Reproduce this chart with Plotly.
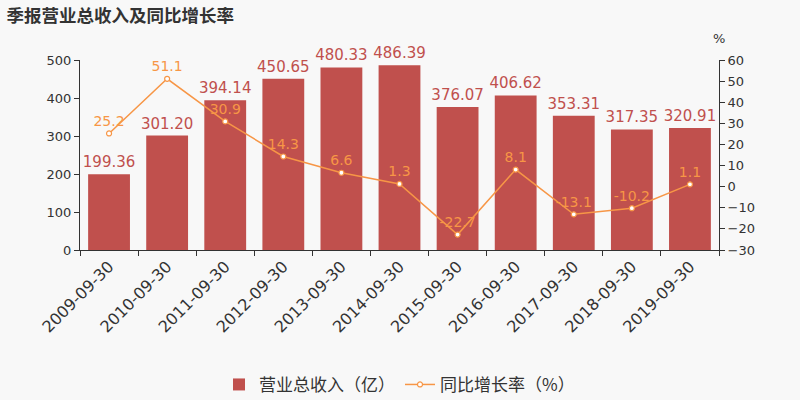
import plotly.graph_objects as go

categories = ["2009-09-30", "2010-09-30", "2011-09-30", "2012-09-30", "2013-09-30",
              "2014-09-30", "2015-09-30", "2016-09-30", "2017-09-30", "2018-09-30", "2019-09-30"]
revenue = [199.36, 301.20, 394.14, 450.65, 480.33, 486.39, 376.07, 406.62, 353.31, 317.35, 320.91]
growth = [25.2, 51.1, 30.9, 14.3, 6.6, 1.3, -22.7, 8.1, -13.1, -10.2, 1.1]

bar_color = "#c0504d"
line_color = "#f79646"
font_fam = "Noto Sans CJK SC, DejaVu Sans, sans-serif"

fig = go.Figure()
fig.add_trace(go.Bar(
    x=categories, y=revenue, name="营业总收入（亿）",
    marker=dict(color=bar_color, line=dict(width=0)),
    text=[f"{v:.2f}" for v in revenue], textposition="outside",
    textfont=dict(color=bar_color, size=15, family="DejaVu Sans"),
    constraintext="none",
    cliponaxis=False, width=0.72,
))
fig.add_trace(go.Scatter(
    x=categories, y=growth, name="同比增长率（%）", yaxis="y2",
    mode="lines+markers+text",
    line=dict(color=line_color, width=1.5),
    marker=dict(symbol="circle", size=5, color="white", line=dict(color=line_color, width=1.2)),
    text=[f"{v}" for v in growth], textposition="top center",
    textfont=dict(color=line_color, size=14, family="DejaVu Sans"),
    cliponaxis=False,
))

axis_font = dict(family="DejaVu Sans", size=13, color="#333")
fig.update_layout(
    width=800, height=400,
    paper_bgcolor="#f8f8f8", plot_bgcolor="#f8f8f8",
    margin=dict(l=80, r=81, t=60, b=150, autoexpand=False),
    title=dict(text="<b>季报营业总收入及同比增长率</b>", x=0.008, xanchor="left", y=0.975, yanchor="top",
               font=dict(family=font_fam, size=17.5, color="#333")),
    xaxis=dict(type="category", range=[-0.5, len(categories) - 0.5],
               tickson="boundaries", ticks="outside", ticklen=5, tickcolor="#333",
               showline=True, linecolor="#333", linewidth=1, tickangle=-45, automargin=False,
               tickfont=dict(family="DejaVu Sans", size=16, color="#333"), showgrid=False),
    yaxis=dict(range=[0, 500], dtick=100, ticks="outside", ticklen=5, tickcolor="#333",
               showline=True, linecolor="#333", showgrid=False, zeroline=False, automargin=False,
               tickfont=axis_font),
    yaxis2=dict(range=[-30, 60], dtick=10, overlaying="y", side="right", ticks="outside", ticklen=5,
                tickcolor="#333", showline=True, linecolor="#333", showgrid=False, zeroline=False,
                automargin=False, tickfont=axis_font),
    legend=dict(orientation="h", x=0.5, xanchor="center", y=-0.71, yanchor="middle",
                font=dict(family=font_fam, size=17, color="#333"), bgcolor="rgba(0,0,0,0)"),
    annotations=[dict(text="%", x=1.0, xref="paper", xanchor="center", y=1.115, yref="paper",
                      yanchor="middle", showarrow=False,
                      font=dict(family="DejaVu Sans", size=13, color="#333"))],
    bargap=0.28,
)
fig.write_html("out.html")
